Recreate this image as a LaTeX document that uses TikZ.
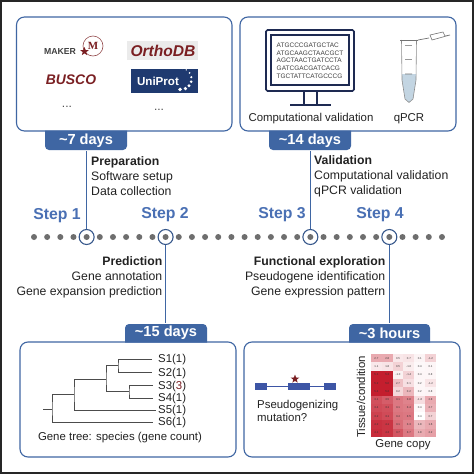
\documentclass[tikz,border=0pt]{standalone}
\usepackage{fontspec}
\usepackage{xcolor}
\setmainfont{Liberation Sans}
\usetikzlibrary{positioning,arrows.meta,calc,shapes.geometric}
\definecolor{boxblue}{HTML}{3F66A3}
\definecolor{stepblue}{HTML}{4A70B4}
\definecolor{dotgray}{HTML}{6E6E6E}
\definecolor{logored}{HTML}{7A1F22}
\definecolor{uninavy}{HTML}{1F3A70}
\definecolor{heatred}{HTML}{C41E2E}
\definecolor{monitornavy}{HTML}{1E2A52}
\definecolor{textgray}{HTML}{222222}
\definecolor{exonblue}{HTML}{3D55A5}
\definecolor{tubeblue}{HTML}{C3D5E2}
\tikzset{
	panel/.style={draw=boxblue, line width=1.1pt, rounded corners=8pt, fill=white},
	daytab/.style={text=white, font=\fontsize{14.6}{14.6}\selectfont\bfseries,
		minimum width=82pt, minimum height=19pt, inner sep=0pt},
	steplabel/.style={text=stepblue, font=\fontsize{15.8}{15.8}\selectfont\bfseries, inner sep=0pt},
	stepring/.style={circle, draw=boxblue!85!black, line width=1.1pt, fill=white, minimum size=15pt, inner sep=0pt},
	griddot/.style={circle, fill=dotgray, minimum size=6pt, inner sep=0pt},
	timeline/.style={draw=boxblue, line width=1.1pt},
	infotext/.style={align=left, font=\fontsize{12.25}{15}\selectfont, text=textgray, inner sep=0pt},
	smalltext/.style={font=\fontsize{11.4}{13.4}\selectfont, text=textgray, inner sep=0pt},
	treeline/.style={draw=black!70, line width=0.7pt},
	leaf/.style={font=\fontsize{11.4}{12}\selectfont, text=textgray, inner sep=0pt, anchor=west},
	redstar/.style={star, star points=5, star point ratio=2.4, fill=logored, inner sep=0pt},
	heatcell/.style={minimum width=10.95pt, minimum height=8.4pt, inner sep=0pt,
		font=\fontsize{2.8}{2.8}\selectfont, text=black!80},
}
\begin{document}
\begin{tikzpicture}[x=1pt,y=-1pt]
	\useasboundingbox (0,0) rectangle (474,474);
	\fill[white] (0,0) rectangle (474,474);
	\draw[black!85, line width=2.5pt] (0.5,0.5) rectangle (473.5,473);
	% panels
	\draw[panel] (16.5,17) rectangle (232,131);
	\draw[panel] (240,17) rectangle (456,131);
	\draw[panel] (20,342) rectangle (236,457);
	\draw[panel] (244,342) rectangle (460,457);
	% duration tabs
	\foreach \xa/\xb in {45/127,269/351}
		{\fill[boxblue] (\xa,130.5) [rounded corners=4pt] -- (\xa,150) -- (\xb,150) [sharp corners] -- (\xb,130.5) -- cycle;}
	\foreach \xa/\xb in {125/207,349/430}
		{\fill[boxblue] (\xa,342.5) [rounded corners=4pt] -- (\xa,324) -- (\xb,324) [sharp corners] -- (\xb,342.5) -- cycle;}
	\node[daytab] (tabone) at (86,141) {\textasciitilde 7 days};
	\node[daytab] (tabthree) at (310,141) {\textasciitilde 14 days};
	\node[daytab] (tabtwo) at (166,333) {\textasciitilde 15 days};
	\node[daytab] (tabfour) at (389.5,333) {\textasciitilde 3 hours};
	% timeline
	\foreach \i in {0,...,31}
		{\node[griddot] (dot\i) at ({34+13.16*\i},237) {};}
	\node[stepring] (stepone) at (dot4) {};
	\node[stepring] (steptwo) at (dot10) {};
	\node[stepring] (stepthree) at (dot21) {};
	\node[stepring] (stepfour) at (dot27) {};
	\foreach \i in {4,10,21,27}
		{\node[griddot] at (dot\i) {};}
	\draw[timeline] (stepone.north) -- (stepone.north |- tabone.south);
	\draw[timeline] (stepthree.north) -- (stepthree.north |- tabthree.south);
	\draw[timeline] (steptwo.south) -- (steptwo.south |- tabtwo.north);
	\draw[timeline] (stepfour.south) -- (stepfour.south |- tabfour.north);
	\node[steplabel] (labelone) at (57,216) {Step 1};
	\node[steplabel] (labeltwo) at (165,215) {Step 2};
	\node[steplabel] (labelthree) at (282,215) {Step 3};
	\node[steplabel] (labelfour) at (380,215) {Step 4};
	% stage texts
	\node[infotext, anchor=west] (prep) at (91,176) {\textbf{Preparation}\\Software setup\\Data collection};
	\node[infotext, anchor=west] (valid) at (314,176) {\textbf{Validation}\\Computational validation\\qPCR validation};
	\node[infotext, anchor=east, align=right] (pred) at (162.5,277) {\textbf{Prediction}\\Gene annotation\\Gene expansion prediction};
	\node[infotext, anchor=east, align=right] (func) at (385.5,277) {\textbf{Functional exploration}\\Pseudogene identification\\Gene expression pattern};
	% tools panel
	\node[font=\fontsize{8.7}{8.7}\selectfont\bfseries, text=black!75, inner sep=0pt] (maker) at (60,52) {MAKER};
	\node[circle, draw=logored!80, line width=0.6pt, minimum size=20pt, inner sep=0pt,
		font=\fontspec{Liberation Serif}\fontsize{11}{11}\selectfont\bfseries, text=logored] (makerm) at (93,46) {M};
	\node[redstar, minimum size=9pt] (makerstar) at (84.5,51.5) {};
	\fill[black!8] (127,41) rectangle (198,60);
	\node[font=\fontsize{15.6}{15.6}\selectfont\bfseries\itshape, text=logored, inner sep=0pt] (orthodb) at (163,50.5) {OrthoDB};
	\node[font=\fontsize{13.9}{13.9}\selectfont\bfseries\itshape, text=logored, inner sep=0pt] (busco) at (71,80) {BUSCO};
	\fill[uninavy] (131,69) rectangle (198,93);
	\node[font=\fontsize{11.6}{11.6}\selectfont\bfseries, text=white, inner sep=0pt] (uniprot) at (158,81.5) {UniProt};
	\foreach \a/\r in {-100/0.4,-80/0.5,-60/0.7,-35/0.9,-10/1.2,15/1.4,40/1.6,65/1.8,95/1.9}
		{\fill[white] ($(181,79)+(\a:10.5)$) circle (\r);}
	\node[font=\fontsize{12}{12}\selectfont, text=black!70, inner sep=0pt] (dotsa) at (67,107) {...};
	\node[font=\fontsize{12}{12}\selectfont, text=black!70, inner sep=0pt] (dotsb) at (159,110) {...};
	% validation panel
	\draw[monitornavy, line width=1.6pt, rounded corners=1.5pt] (266,30) rectangle (354,91);
	\draw[monitornavy, line width=1.1pt] (271,35) rectangle (349,85);
	\draw[monitornavy, line width=1.3pt] (304,91) -- (304,105) (317,91) -- (317,105);
	\draw[monitornavy, line width=1.4pt] (290,105) -- (331,105);
	\node[font=\fontsize{6.5}{7.7}\selectfont, align=left, text=black!75, inner sep=0pt] (seqs) at (310,60.5)
		{ATGCCCGATGCTAC\\ATGCAAGCTAACGCT\\AGCTAACTGATCCTA\\GATCGACGATCACG\\TGCTATTCATGCCCG};
	\node[smalltext] (compval) at (311,119) {Computational validation};
	\node[smalltext] (qpcr) at (409,119) {qPCR};
	% tube
	\fill[tubeblue] (402,74) -- (416,74) -- (416,80) -- (413,99) -- (409,102.5) -- (405,99) -- (402,80) -- cycle;
	\draw[black!45, line width=0.6pt] (401.5,40) -- (402,80) -- (405,99) -- (409,102.5) -- (413,99) -- (416,80) -- (416.5,40);
	\draw[black!55, line width=1.3pt] (400,40.5) -- (418,40.5);
	\draw[black!40, line width=0.6pt] (405,45) -- (412,45) (405,59) -- (412,59);
	\draw[black!55, line width=0.7pt] (405,74) -- (412,74) (418,40) -- (429,38);
	\draw[black!55, line width=0.6pt] (430,35) -- (443,32) -- (445,36) -- (450,35) -- (432,40) -- cycle;
	% gene tree
	\node[leaf] (sa) at (158,360) {S1(1)};
	\node[leaf] (sb) at (158,374) {S2(1)};
	\node[leaf] (sc) at (158,386.5) {S3(\textcolor{logored}{3})};
	\node[leaf] (sd) at (158,399) {S4(1)};
	\node[leaf] (se) at (158,411) {S5(1)};
	\node[leaf] (sf) at (158,423) {S6(1)};
	\coordinate (nroot) at (52,409);
	\coordinate (nab) at (118,365.5);
	\coordinate (ncd) at (129,391.5);
	\coordinate (nad) at (106,379);
	\coordinate (nae) at (74,394);
	\draw[treeline] (43,409) -- (nroot);
	\draw[treeline] (nae) -| (nroot) |- (153,422);
	\draw[treeline] (nad) -| (nae) |- (156,410);
	\draw[treeline] (nab) -| (nad) |- (ncd);
	\draw[treeline] (152,359) -| (nab) |- (152,372);
	\draw[treeline] (153,385) -| (ncd) |- (153,398);
	\node[smalltext] (treecap) at (120,438) {Gene tree: species (gene count)};
	% gene model
	\draw[exonblue, line width=1pt] (255,386.5) -- (336,386.5);
	\foreach \xa/\xb in {255/267,288/310,324/336}
		{\fill[exonblue] (\xa,383) rectangle (\xb,390);}
	\node[redstar, minimum size=9pt] (mutstar) at (295,379) {};
	\node[smalltext, align=left, anchor=north west] (pseudo) at (257,400) {Pseudogenizing\\mutation?};
	% heat map
	\foreach \row [count=\j from 0] in {
		{38/2.7,38/2.8,10/0.5,12/0.7,5/0.1,20/-1.2},
		{10/1.1,12/1.8,20/0.5,8/-1.0,3/0.4,4/0.1},
		{100/5.1,100/5.3,6/-1.0,20/-1.4,4/0.4,4/0.8},
		{100/5.2,100/5.0,28/2.7,14/0.1,4/0.2,12/-1.2},
		{100/5.4,100/5.2,18/0.2,32/0.2,4/0.2,5/0.8},
		{78/3.1,72/3.5,60/3.1,55/3.8,15/-1.6,38/2.8},
		{80/3.4,78/3.1,60/3.1,58/3.4,3/0.4,35/2.7},
		{84/3.2,80/3.1,62/3.4,60/3.5,0/0.4,20/0.7},
		{92/4.2,90/4.1,65/3.1,55/3.3,32/1.8,38/1.6},
		{94/4.1,90/4.3,75/3.7,60/3.7,38/1.8,42/2.2}}
		{\foreach \v/\l [count=\k from 0] in \row
			{\node[heatcell, fill=heatred!\v!white] (cell\j-\k) at ({376.4+10.83*\k},{358.2+8.3*\j}) {\l};}}
	\node[smalltext, rotate=90] (tissue) at (361,397) {Tissue/condition};
	\node[smalltext] (genecopy) at (403,445) {Gene copy};
\end{tikzpicture}
\end{document}
